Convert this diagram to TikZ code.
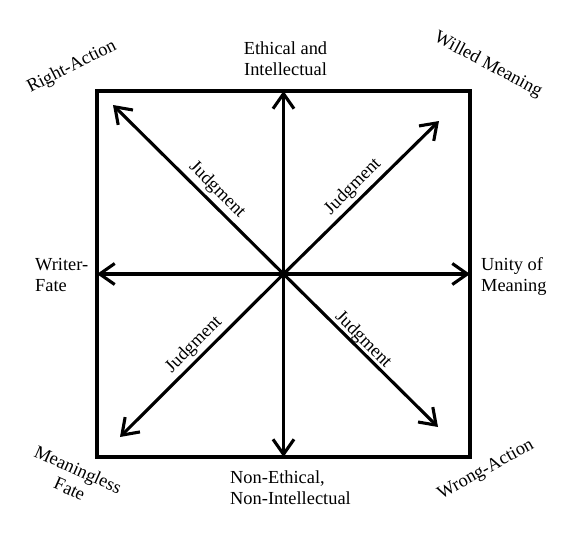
\documentclass[tikz,border=0pt]{standalone}
\usepackage{fontspec}
\setmainfont{Liberation Serif}
\usetikzlibrary{arrows.meta}
\begin{document}
\begin{tikzpicture}[x=1pt,y=-1pt,
  lbl/.style={font=\fontsize{18.4}{21}\selectfont, inner sep=0pt, align=center},
  ax/.style={line width=3.1pt, -{Straight Barb[length=15pt,width=21pt]}},
  frame/.style={line width=3.1pt, line join=miter}]
\useasboundingbox (0,0) rectangle (578,535);
% frame
\coordinate (tl) at (97,91);
\coordinate (br) at (470,457);
\draw[frame] (tl) rectangle (br);
% centre and arrow ends
\coordinate (c) at (283.5,274);
\coordinate (n) at (283.5,91);
\coordinate (s) at (283.5,457);
\coordinate (w) at (97,274);
\coordinate (e) at (470,274);
\coordinate (nw) at (113,105);
\coordinate (ne) at (439,121);
\coordinate (se) at (438,427);
\coordinate (sw) at (120,437);
\foreach \t in {n,s,w,e,nw,ne,se,sw} \draw[ax] (c) -- (\t);
% judgment labels
\node[lbl, rotate=-45] (j1) at (217,190) {Judgment};
\node[lbl, rotate=45]  (j2) at (353,187) {Judgment};
\node[lbl, rotate=45]  (j3) at (194,345) {Judgment};
\node[lbl, rotate=-45] (j4) at (363,340) {Judgment};
% side labels
\node[lbl] (top) at (285.5,59) {Ethical and\\Intellectual};
\node[lbl, align=left, anchor=west] (left) at (35,275) {Writer-\\Fate};
\node[lbl, align=left, anchor=west] (right) at (481,277) {Unity of\\Meaning};
\node[lbl, align=left, anchor=west] (bottom) at (230,488) {Non-Ethical,\\Non-Intellectual};
% corner labels
\node[lbl, rotate=27] (ra) at (72,67) {Right-Action};
\node[lbl, rotate=-28] (wm) at (488,65) {Willed Meaning};
\node[lbl, rotate=-24] (mf) at (74,479) {Meaningless\\Fate};
\node[lbl, rotate=29] (wa) at (486,470) {Wrong-Action};
\end{tikzpicture}
\end{document}
